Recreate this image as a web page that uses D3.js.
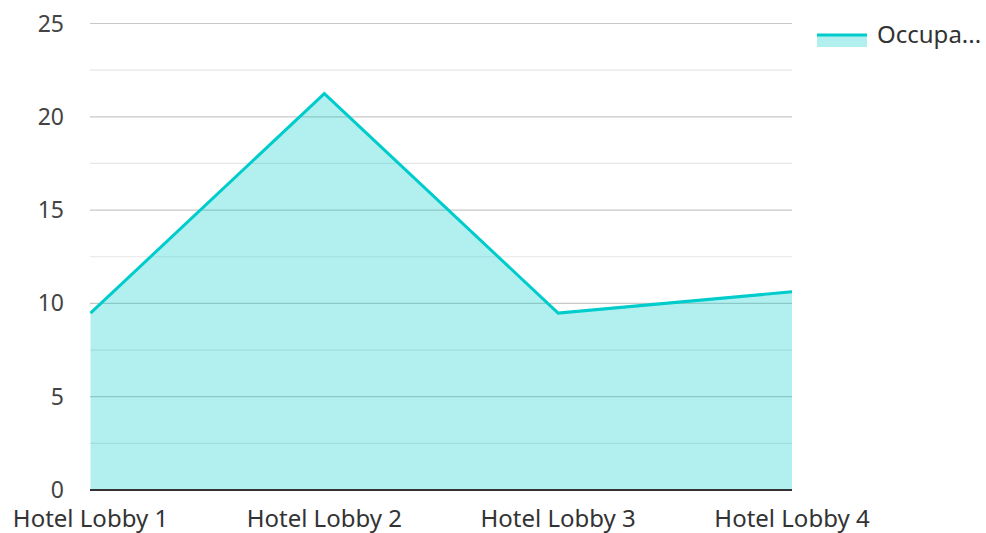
<!DOCTYPE html>
<html><head><meta charset="utf-8">
<script src="https://cdn.jsdelivr.net/npm/d3@7"></script>
<style>body{margin:0;background:#fff;}svg{display:block;font-family:"Noto Sans","Open Sans",sans-serif;}</style>
</head><body>
<script>
const categories = ["Hotel Lobby 1","Hotel Lobby 2","Hotel Lobby 3","Hotel Lobby 4"];
const occupancy = [9.48, 21.24, 9.48, 10.62];
const seriesName = "Occupa...";
const yTicks = [0,5,10,15,20,25];
const yMinorTicks = [2.5,7.5,12.5,17.5,22.5];

const W=986,H=533;
const svg=d3.select("body").append("svg").attr("width",W).attr("height",H);
const x=d3.scalePoint().domain(categories).range([90.5,792]);
const y=d3.scaleLinear().domain([0,25]).range([490,23.5]);

svg.append("g").selectAll("line").data(yMinorTicks).join("line")
 .attr("x1",90).attr("x2",792).attr("y1",d=>y(d)).attr("y2",d=>y(d))
 .attr("stroke","#e6e6e6").attr("stroke-width",1.2);
svg.append("g").selectAll("line").data(yTicks.filter(d=>d>0)).join("line")
 .attr("x1",90).attr("x2",792).attr("y1",d=>y(d)).attr("y2",d=>y(d))
 .attr("stroke","#c8c8c8").attr("stroke-width",1.2);

const data=categories.map((c,i)=>({c,v:occupancy[i]}));
svg.append("path").datum(data)
 .attr("d",d3.area().x(d=>x(d.c)).y0(y(0)).y1(d=>y(d.v)))
 .attr("fill","#00cccc").attr("fill-opacity",0.3);
svg.append("path").datum(data)
 .attr("d",d3.line().x(d=>x(d.c)).y(d=>y(d.v)))
 .attr("fill","none").attr("stroke","#00cccc").attr("stroke-width",3).attr("stroke-linejoin","miter");

svg.append("line").attr("x1",90).attr("x2",792).attr("y1",y(0)).attr("y2",y(0))
 .attr("stroke","#333").attr("stroke-width",2);

svg.append("g").selectAll("text").data(yTicks).join("text")
 .attr("x",64).attr("y",d=>y(d)).attr("dy","0.35em").attr("text-anchor","end")
 .attr("font-size",23).attr("fill","#444").text(d=>d);

svg.append("g").selectAll("text").data(categories).join("text")
 .attr("x",d=>x(d)).attr("y",527).attr("text-anchor","middle")
 .attr("font-size",24).attr("fill","#333").text(d=>d);

const lg=svg.append("g");
lg.append("rect").attr("x",817).attr("y",35).attr("width",50).attr("height",12).attr("fill","#00cccc").attr("fill-opacity",0.3);
lg.append("line").attr("x1",817).attr("x2",867).attr("y1",35).attr("y2",35).attr("stroke","#00cccc").attr("stroke-width",3);
lg.append("text").attr("x",877).attr("y",43).attr("font-size",24).attr("fill","#333").text(seriesName);
</script>
</body></html>
